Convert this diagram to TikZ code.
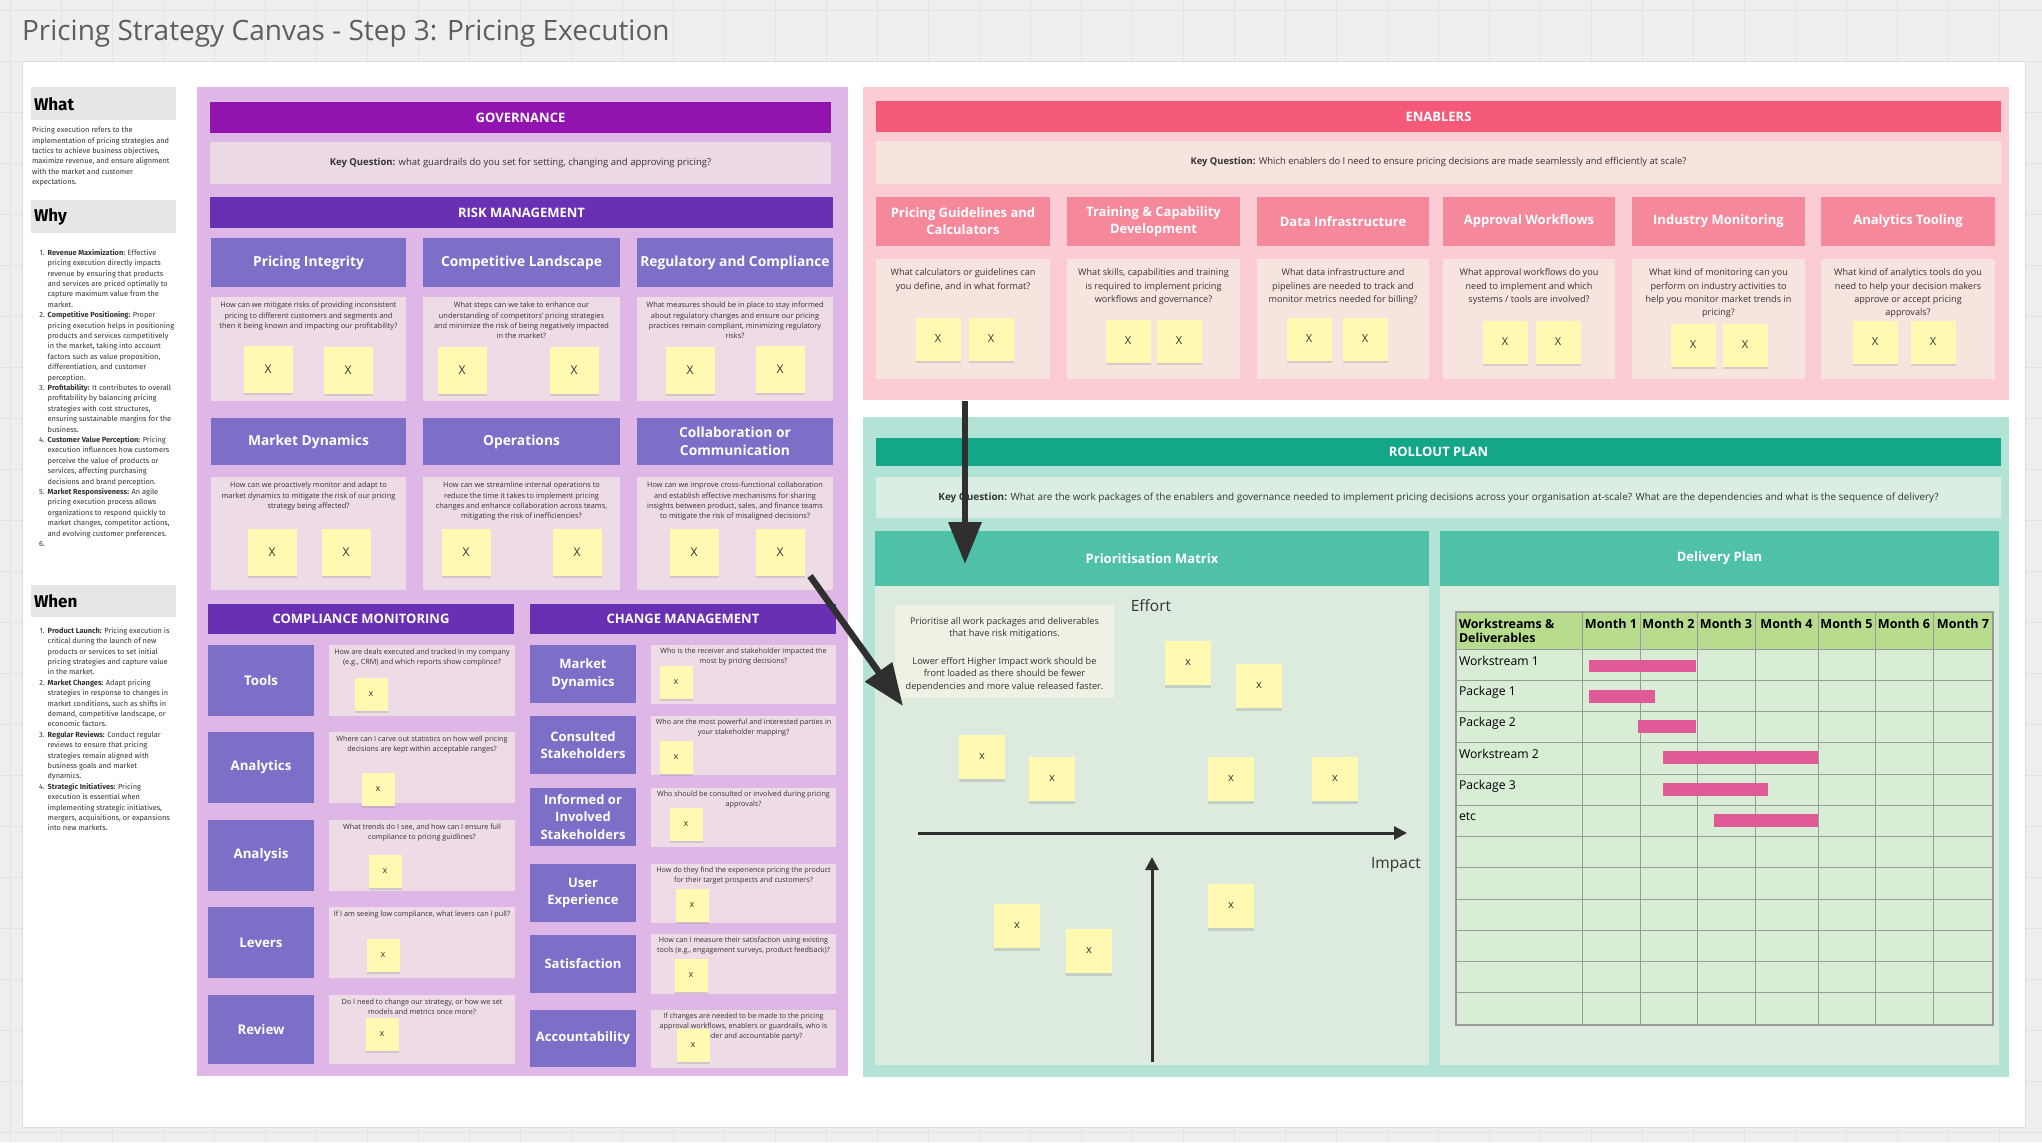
\documentclass[tikz,border=0pt]{standalone}
\usepackage{fontspec}
\setmainfont{Open Sans}
\newfontfamily\plex{Fira Sans}
\usetikzlibrary{arrows.meta,shadows}
\definecolor{bgc}{HTML}{EFEFEF}
\definecolor{gridc}{HTML}{E3E3E3}
\definecolor{canvasB}{HTML}{DDDDDD}
\definecolor{titleC}{HTML}{5E5E5E}
\definecolor{leftHd}{HTML}{E6E6E6}
\definecolor{txt}{HTML}{333333}
\definecolor{govP}{HTML}{DFB7E6}
\definecolor{govH}{HTML}{9214B0}
\definecolor{govK}{HTML}{EBDAE5}
\definecolor{rmH}{HTML}{6A30B3}
\definecolor{subB}{HTML}{7D6FC7}
\definecolor{qB}{HTML}{EDDCE6}
\definecolor{enP}{HTML}{FCCCD5}
\definecolor{enH}{HTML}{F45A78}
\definecolor{enK}{HTML}{F8E4DF}
\definecolor{enS}{HTML}{F5899B}
\definecolor{roP}{HTML}{B3E2D6}
\definecolor{roH}{HTML}{13A688}
\definecolor{roK}{HTML}{DCEEE4}
\definecolor{mxH}{HTML}{4EC1A7}
\definecolor{mxB}{HTML}{DCEBDE}
\definecolor{noteB}{HTML}{EEF1E4}
\definecolor{tblH}{HTML}{B8DC8E}
\definecolor{tblC}{HTML}{D9EDD6}
\definecolor{tblL}{HTML}{9A9A9A}
\definecolor{barC}{HTML}{E05A97}
\definecolor{stky}{HTML}{FFF9B1}
\definecolor{arrowC}{HTML}{2F2F2F}
\newcommand\fsz[2]{\fontsize{#1bp}{#2bp}\selectfont}
\newcommand\mybox[7]{\pgfmathsetmacro\myw{#5-#3}\pgfmathsetmacro\myh{#6-#4}%
  \node[#1,inner sep=0pt,outer sep=0pt,anchor=north west,minimum width=\myw bp,minimum height=\myh bp] (#2) at (#3,#4) {#7};}
\begin{document}
\begin{tikzpicture}[x=1bp,y=-1bp,
  box/.style={inner sep=0pt,outer sep=0pt},
  hdr/.style={box,text=white,align=center,font=\fsz{13}{15}\bfseries},
  mhdr/.style={box,text=white,align=center,font=\fsz{13}{15}\bfseries},
  sub/.style={box,fill=subB,text=white,align=center,font=\fsz{13.8}{18}\bfseries},
  esub/.style={box,fill=enS,text=white,align=center,font=\fsz{13}{17}\bfseries},
  qbox/.style={box,fill=qB},
  ebox/.style={box,fill=enK},
  keyq/.style={box,text=txt,align=center,font=\fsz{9.5}{11}},
  qtxt/.style={inner sep=0pt,outer sep=0pt,anchor=north,align=center,text=txt,font=\fsz{7.4}{10.4}},
  ctxt/.style={qtxt,font=\fsz{7.25}{9.6}},
  etxt/.style={qtxt,font=\fsz{9.1}{13.3}},
  stk/.style={fill=stky,inner sep=0pt,outer sep=0pt,text=txt,drop shadow={opacity=0.25,shadow xshift=0bp,shadow yshift=-2.5bp}},
  stkL/.style={stk,minimum width=49bp,minimum height=47bp,font=\fsz{12}{14}},
  stkE/.style={stk,minimum width=45bp,minimum height=43bp,font=\fsz{11}{13}},
  stkS/.style={stk,minimum width=33bp,minimum height=33bp,font=\fsz{9}{11}},
  stkM/.style={stk,minimum width=46bp,minimum height=44bp,font=\fsz{11}{13}},
  lefttxt/.style={inner sep=0pt,outer sep=0pt,anchor=north west,align=left,text=txt,font=\plex\fsz{7.4}{10.4}},
  lefthd/.style={inner sep=0pt,outer sep=0pt,anchor=west,text=black,font=\plex\fsz{17}{19}\bfseries},
  tbltxt/.style={inner sep=0pt,outer sep=0pt,text=black,font=\fsz{12.2}{13.5}},
  bigarrow/.style={draw=arrowC,line width=6.5bp,-{Triangle[width=32bp,length=42bp]}},
  axis/.style={draw=arrowC,line width=3bp,-{Triangle[width=13bp,length=13bp]}}
]
% background and grid
\fill[bgc] (0,0) rectangle (2042,1142);
\useasboundingbox (0,0) rectangle (2042,1142);
\foreach \gx in {10,61,...,2042} \draw[gridc,line width=1bp] (\gx,0) -- (\gx,1142);
\foreach \gy in {10,61,...,1142} \draw[gridc,line width=1bp] (0,\gy) -- (2042,\gy);
% canvas
\mybox{box,fill=white,draw=canvasB}{canvas}{22}{61}{2025}{1127}{}
\node[box,anchor=west,text=titleC,font=\fsz{28}{32}] (title) at (22,34) {Pricing Strategy Canvas - Step 3: Pricing Execution};

% ---------- left column ----------
\mybox{box,fill=leftHd}{whatH}{31}{87}{176}{120}{}
\node[lefthd] (whatT) at (34,104) {What};
\node[lefttxt] (whatX) at (32,127) {Pricing execution refers to the\\implementation of pricing strategies and\\tactics to achieve business objectives,\\maximize revenue, and ensure alignment\\with the market and customer\\expectations.};
\mybox{box,fill=leftHd}{whyH}{31}{200}{176}{233}{}
\node[lefthd] (whyT) at (34,217) {Why};
\node[lefttxt] (whyX) at (32,248) {\begin{tabular}{@{\hspace{7bp}}r@{\hspace{3bp}}l@{}}
1. & \textbf{Revenue Maximization:} Effective\\
 & pricing execution directly impacts\\
 & revenue by ensuring that products\\
 & and services are priced optimally to\\
 & capture maximum value from the\\
 & market.\\
2. & \textbf{Competitive Positioning:} Proper\\
 & pricing execution helps in positioning\\
 & products and services competitively\\
 & in the market, taking into account\\
 & factors such as value proposition,\\
 & differentiation, and customer\\
 & perception.\\
3. & \textbf{Profitability:} It contributes to overall\\
 & profitability by balancing pricing\\
 & strategies with cost structures,\\
 & ensuring sustainable margins for the\\
 & business.\\
4. & \textbf{Customer Value Perception:} Pricing\\
 & execution influences how customers\\
 & perceive the value of products or\\
 & services, affecting purchasing\\
 & decisions and brand perception.\\
5. & \textbf{Market Responsiveness:} An agile\\
 & pricing execution process allows\\
 & organizations to respond quickly to\\
 & market changes, competitor actions,\\
 & and evolving customer preferences.\\
6. & \\
\end{tabular}};
\mybox{box,fill=leftHd}{whenH}{31}{585}{176}{617}{}
\node[lefthd] (whenT) at (34,601) {When};
\node[lefttxt] (whenX) at (32,626) {\begin{tabular}{@{\hspace{7bp}}r@{\hspace{3bp}}l@{}}
1. & \textbf{Product Launch:} Pricing execution is\\
 & critical during the launch of new\\
 & products or services to set initial\\
 & pricing strategies and capture value\\
 & in the market.\\
2. & \textbf{Market Changes:} Adapt pricing\\
 & strategies in response to changes in\\
 & market conditions, such as shifts in\\
 & demand, competitive landscape, or\\
 & economic factors.\\
3. & \textbf{Regular Reviews:} Conduct regular\\
 & reviews to ensure that pricing\\
 & strategies remain aligned with\\
 & business goals and market\\
 & dynamics.\\
4. & \textbf{Strategic Initiatives:} Pricing\\
 & execution is essential when\\
 & implementing strategic initiatives,\\
 & mergers, acquisitions, or expansions\\
 & into new markets.\\
\end{tabular}};

% ---------- governance ----------
\mybox{box,fill=govP}{gov}{197}{87}{848}{1076}{}
\mybox{hdr,fill=govH}{govH}{210}{102}{831}{133}{GOVERNANCE}
\mybox{keyq,fill=govK}{govK}{210}{142}{831}{184}{\textbf{Key Question:} what guardrails do you set for setting, changing and approving pricing?}
\mybox{hdr,fill=rmH}{rmH}{210}{197}{833}{228}{RISK MANAGEMENT}
\mybox{sub}{pi}{211}{238}{406}{287}{Pricing Integrity}
\mybox{sub}{cl}{423}{238}{620}{287}{Competitive Landscape}
\mybox{sub}{rc}{637}{238}{833}{287}{Regulatory and Compliance}
\mybox{qbox}{piQ}{211}{297}{406}{401}{}
\mybox{qbox}{clQ}{423}{297}{620}{401}{}
\mybox{qbox}{rcQ}{637}{297}{833}{401}{}
\node[qtxt] (piT) at ([yshift=-5bp]piQ.north) {How can we mitigate risks of providing inconsistent\\pricing to different customers and segments and\\then it being known and impacting our profitability?};
\node[qtxt] (clT) at ([yshift=-5bp]clQ.north) {What steps can we take to enhance our\\understanding of competitors' pricing strategies\\and minimize the risk of being negatively impacted\\in the market?};
\node[qtxt] (rcT) at ([yshift=-5bp]rcQ.north) {What measures should be in place to stay informed\\about regulatory changes and ensure our pricing\\practices remain compliant, minimizing regulatory\\risks?};
\node[stkL] (rs1) at (268,369) {X};
\node[stkL] (rs2) at (348,370) {X};
\node[stkL] (rs3) at (462,370) {X};
\node[stkL] (rs4) at (574,370) {X};
\node[stkL] (rs5) at (690,370) {X};
\node[stkL] (rs6) at (780,369) {X};
\mybox{sub}{md}{211}{418}{406}{465}{Market Dynamics}
\mybox{sub}{op}{423}{418}{620}{465}{Operations}
\mybox{sub,font=\fsz{13.8}{18}\bfseries}{cc}{637}{418}{833}{465}{Collaboration or\\Communication}
\mybox{qbox}{mdQ}{211}{477}{406}{590}{}
\mybox{qbox}{opQ}{423}{477}{620}{590}{}
\mybox{qbox}{ccQ}{637}{477}{833}{590}{}
\node[qtxt] (mdT) at ([yshift=-5bp]mdQ.north) {How can we proactively monitor and adapt to\\market dynamics to mitigate the risk of our pricing\\strategy being affected?};
\node[qtxt] (opT) at ([yshift=-5bp]opQ.north) {How can we streamline internal operations to\\reduce the time it takes to implement pricing\\changes and enhance collaboration across teams,\\mitigating the risk of inefficiencies?};
\node[qtxt] (ccT) at ([yshift=-5bp]ccQ.north) {How can we improve cross-functional collaboration\\and establish effective mechanisms for sharing\\insights between product, sales, and finance teams\\to mitigate the risk of misaligned decisions?};
\node[stkL] (rs7) at (272,552) {X};
\node[stkL] (rs8) at (346,552) {X};
\node[stkL] (rs9) at (466,552) {X};
\node[stkL] (rs10) at (577,552) {X};
\node[stkL] (rs11) at (694,552) {X};
\node[stkL] (rs12) at (780,552) {X};

% compliance monitoring
\mybox{hdr,fill=rmH}{cmH}{208}{604}{514}{634}{COMPLIANCE MONITORING}
\mybox{sub,font=\fsz{13.3}{18}\bfseries}{cmL1}{208}{645}{314}{716}{Tools}
\mybox{sub,font=\fsz{13.3}{18}\bfseries}{cmL2}{208}{732}{314}{803}{Analytics}
\mybox{sub,font=\fsz{13.3}{18}\bfseries}{cmL3}{208}{820}{314}{891}{Analysis}
\mybox{sub,font=\fsz{13.3}{18}\bfseries}{cmL4}{208}{907}{314}{978}{Levers}
\mybox{sub,font=\fsz{13.3}{18}\bfseries}{cmL5}{208}{995}{314}{1064}{Review}
\mybox{qbox}{cmQ1}{329}{645}{515}{716}{}
\mybox{qbox}{cmQ2}{329}{732}{515}{803}{}
\mybox{qbox}{cmQ3}{329}{820}{515}{891}{}
\mybox{qbox}{cmQ4}{329}{907}{515}{978}{}
\mybox{qbox}{cmQ5}{329}{995}{515}{1064}{}
\node[ctxt] (cmT1) at ([yshift=-4bp]cmQ1.north) {How are deals executed and tracked in my company\\(e.g., CRM) and which reports show complince?};
\node[ctxt] (cmT2) at ([yshift=-4bp]cmQ2.north) {Where can I carve out statistics on how well pricing\\decisions are kept within acceptable ranges?};
\node[ctxt] (cmT3) at ([yshift=-4bp]cmQ3.north) {What trends do I see, and how can I ensure full\\compliance to pricing guidlines?};
\node[ctxt] (cmT4) at ([yshift=-4bp]cmQ4.north) {If I am seeing low compliance, what levers can I pull?};
\node[ctxt] (cmT5) at ([yshift=-4bp]cmQ5.north) {Do I need to change our strategy, or how we set\\models and metrics once more?};
\node[stkS] (cs1) at (371,694) {x};
\node[stkS] (cs2) at (378,789) {x};
\node[stkS] (cs3) at (385,871) {x};
\node[stkS] (cs4) at (383,955) {x};
\node[stkS] (cs5) at (382,1034) {x};

% change management
\mybox{hdr,fill=rmH}{chH}{530}{604}{836}{634}{CHANGE MANAGEMENT}
\mybox{sub,font=\fsz{13}{17.5}\bfseries}{chL1}{530}{645}{636}{703}{Market\\Dynamics}
\mybox{sub,font=\fsz{13}{17.5}\bfseries}{chL2}{530}{716}{636}{774}{Consulted\\Stakeholders}
\mybox{sub,font=\fsz{13}{17.5}\bfseries}{chL3}{530}{788}{636}{846}{Informed or\\Involved\\Stakeholders}
\mybox{sub,font=\fsz{13}{17.5}\bfseries}{chL4}{530}{864}{636}{922}{User\\Experience}
\mybox{sub,font=\fsz{13}{17.5}\bfseries}{chL5}{530}{935}{636}{993}{Satisfaction}
\mybox{sub,font=\fsz{13}{17.5}\bfseries}{chL6}{530}{1010}{636}{1067}{Accountability}
\mybox{qbox}{chQ1}{651}{645}{836}{704}{}
\mybox{qbox}{chQ2}{651}{716}{836}{775}{}
\mybox{qbox}{chQ3}{651}{788}{836}{847}{}
\mybox{qbox}{chQ4}{651}{864}{836}{923}{}
\mybox{qbox}{chQ5}{651}{934}{836}{994}{}
\mybox{qbox}{chQ6}{651}{1010}{836}{1068}{}
\node[ctxt,font=\fsz{7.2}{10}] (chT1) at ([yshift=-3bp]chQ1.north) {Who is the receiver and stakeholder impacted the\\most by pricing decisions?};
\node[ctxt,font=\fsz{7.2}{10}] (chT2) at ([yshift=-3bp]chQ2.north) {Who are the most powerful and interested parties in\\your stakeholder mapping?};
\node[ctxt,font=\fsz{7.2}{10}] (chT3) at ([yshift=-3bp]chQ3.north) {Who should be consulted or involved during pricing\\approvals?};
\node[ctxt,font=\fsz{7.2}{10}] (chT4) at ([yshift=-3bp]chQ4.north) {How do they find the experience pricing the product\\for their target prospects and customers?};
\node[ctxt,font=\fsz{7.2}{10}] (chT5) at ([yshift=-3bp]chQ5.north) {How can I measure their satisfaction using existing\\tools (e.g., engagement surveys, product feedback)?};
\node[ctxt,font=\fsz{7.2}{10}] (chT6) at ([yshift=-3bp]chQ6.north) {If changes are needed to be made to the pricing\\approval workflows, enablers or guardrails, who is\\the decider and accountable party?};
\node[stkS] (hs1) at (676,682) {x};
\node[stkS] (hs2) at (676,757) {x};
\node[stkS] (hs3) at (686,824) {x};
\node[stkS] (hs4) at (692,905) {x};
\node[stkS] (hs5) at (691,975) {x};
\node[stkS] (hs6) at (693,1045) {x};

% ---------- enablers ----------
\mybox{box,fill=enP}{en}{863}{87}{2009}{400}{}
\mybox{hdr,fill=enH}{enH}{876}{101}{2001}{132}{ENABLERS}
\mybox{keyq,fill=enK,font=\fsz{9.4}{11}}{enK}{876}{141}{2001}{184}{\textbf{Key Question:} Which enablers do I need to ensure pricing decisions are made seamlessly and efficiently at scale?}
\mybox{esub}{e1}{876}{197}{1050}{246}{Pricing Guidelines and\\Calculators}
\mybox{esub}{e2}{1067}{197}{1240}{246}{Training \& Capability\\Development}
\mybox{esub}{e3}{1257}{197}{1429}{246}{Data Infrastructure}
\mybox{esub}{e4}{1443}{197}{1615}{246}{Approval Workflows}
\mybox{esub}{e5}{1632}{197}{1805}{246}{Industry Monitoring}
\mybox{esub}{e6}{1821}{197}{1995}{246}{Analytics Tooling}
\mybox{ebox}{e1Q}{876}{259}{1050}{379}{}
\mybox{ebox}{e2Q}{1067}{259}{1240}{379}{}
\mybox{ebox}{e3Q}{1257}{259}{1429}{379}{}
\mybox{ebox}{e4Q}{1443}{259}{1615}{379}{}
\mybox{ebox}{e5Q}{1632}{259}{1805}{379}{}
\mybox{ebox}{e6Q}{1821}{259}{1995}{379}{}
\node[etxt] (e1T) at ([yshift=-10bp]e1Q.north) {What calculators or guidelines can\\you define, and in what format?};
\node[etxt] (e2T) at ([yshift=-10bp]e2Q.north) {What skills, capabilities and training\\is required to implement pricing\\workflows and governance?};
\node[etxt] (e3T) at ([yshift=-10bp]e3Q.north) {What data infrastructure and\\pipelines are needed to track and\\monitor metrics needed for billing?};
\node[etxt] (e4T) at ([yshift=-10bp]e4Q.north) {What approval workflows do you\\need to implement and which\\systems / tools are involved?};
\node[etxt] (e5T) at ([yshift=-10bp]e5Q.north) {What kind of monitoring can you\\perform on industry activities to\\help you monitor market trends in\\pricing?};
\node[etxt] (e6T) at ([yshift=-10bp]e6Q.north) {What kind of analytics tools do you\\need to help your decision makers\\approve or accept pricing\\approvals?};
\node[stkE] (es1) at (938,339) {X};
\node[stkE] (es2) at (991,339) {X};
\node[stkE] (es3) at (1128,341) {X};
\node[stkE] (es4) at (1179,341) {X};
\node[stkE] (es5) at (1309,339) {X};
\node[stkE] (es6) at (1365,339) {X};
\node[stkE] (es7) at (1505,342) {X};
\node[stkE] (es8) at (1558,342) {X};
\node[stkE] (es9) at (1693,345) {X};
\node[stkE] (es10) at (1745,345) {X};
\node[stkE] (es11) at (1875,342) {X};
\node[stkE] (es12) at (1933,342) {X};

% ---------- rollout plan ----------
\mybox{box,fill=roP}{ro}{863}{417}{2009}{1077}{}
\mybox{mhdr,fill=roH}{roH}{876}{438}{2001}{466}{ROLLOUT PLAN}
\mybox{keyq,fill=roK,font=\fsz{9.95}{11}}{roK}{876}{477}{2001}{518}{\textbf{Key Question:} What are the work packages of the enablers and governance needed to implement pricing decisions across your organisation at-scale? What are the dependencies and what is the sequence of delivery?}
\mybox{mhdr,fill=mxH}{pmH}{875}{531}{1429}{586}{Prioritisation Matrix}
\mybox{box,fill=mxB}{pmB}{875}{586}{1429}{1065}{}
\mybox{mhdr,fill=mxH}{dpH}{1440}{531}{1999}{586}{Delivery Plan}
\mybox{box,fill=mxB}{dpB}{1440}{586}{1999}{1065}{}
% note
\mybox{box,fill=noteB}{note}{895}{605}{1114}{698}{}
\node[qtxt,font=\fsz{9.2}{12.5}] (noteT) at ([yshift=-12bp]note.north) {Prioritise all work packages and deliverables\\that have risk mitigations.\\[15bp]Lower effort Higher Impact work should be\\front loaded as there should be fewer\\dependencies and more value released faster.};
% axes
\node[box,text=txt,font=\fsz{15.5}{17}] (effort) at (1151,606) {Effort};
\node[box,text=txt,font=\fsz{15.5}{17}] (impact) at (1396,865) {Impact};
\coordinate (hxS) at (918,833);
\coordinate (hxE) at (1407,833);
\coordinate (vxS) at (1152,1062);
\coordinate (vxE) at (1152,857);
\draw[axis] (hxS) -- (hxE);
\draw[axis] (vxS) -- (vxE);
\node[stkM] (ms1) at (1188,663) {x};
\node[stkM] (ms2) at (1259,686) {x};
\node[stkM] (ms3) at (982,757) {x};
\node[stkM] (ms4) at (1052,779) {x};
\node[stkM] (ms5) at (1231,779) {x};
\node[stkM] (ms6) at (1335,779) {x};
\node[stkM] (ms7) at (1231,906) {x};
\node[stkM] (ms8) at (1017,926) {x};
\node[stkM] (ms9) at (1089,951) {x};

% delivery table
\fill[tblH] (1456,612) rectangle (1993,649);
\fill[tblC] (1456,649) rectangle (1993,1025);
\foreach \tx in {1582,1640,1697,1755,1818,1875,1933} \draw[tblL,line width=1bp] (\tx,612) -- (\tx,1025);
\foreach \ty in {649,680,711,742,774,805,836,867,899,930,961,992} \draw[tblL,line width=1bp] (1456,\ty) -- (1993,\ty);
\draw[tblL,line width=1.5bp] (1456,612) rectangle (1993,1025);
\node[tbltxt,anchor=west,align=left,font=\fsz{12.4}{13.5}\bfseries] (thWS) at (1459,631) {Workstreams \&\\Deliverables};
\foreach \mx/\mn in {1611/1,1668.5/2,1726/3,1786.5/4,1846.5/5,1904/6,1963/7}
  \node[tbltxt,font=\fsz{12.6}{13.5}\bfseries] (thM\mn) at (\mx,624) {Month \mn};
\node[tbltxt,anchor=west] (rw1) at (1459,661) {Workstream 1};
\node[tbltxt,anchor=west] (rw2) at (1459,692) {Package 1};
\node[tbltxt,anchor=west] (rw3) at (1459,723) {Package 2};
\node[tbltxt,anchor=west] (rw4) at (1459,754) {Workstream 2};
\node[tbltxt,anchor=west] (rw5) at (1459,786) {Package 3};
\node[tbltxt,anchor=west] (rw6) at (1459,817) {etc};
\mybox{box,fill=barC}{b1}{1589}{660}{1696}{672}{}
\mybox{box,fill=barC}{b2}{1589}{690}{1655}{703}{}
\mybox{box,fill=barC}{b3}{1638}{720}{1696}{733}{}
\mybox{box,fill=barC}{b4}{1663}{751}{1818}{764}{}
\mybox{box,fill=barC}{b5}{1663}{783}{1768}{796}{}
\mybox{box,fill=barC}{b6}{1714}{814}{1818}{827}{}

% ---------- big arrows ----------
\coordinate (a1s) at (965,401);
\coordinate (a1e) at (965,564);
\draw[bigarrow] (a1s) -- (a1e);
\coordinate (a2s) at (810,576);
\coordinate (a2e) at (903,706);
\draw[bigarrow] (a2s) -- (a2e);
\end{tikzpicture}
\end{document}
